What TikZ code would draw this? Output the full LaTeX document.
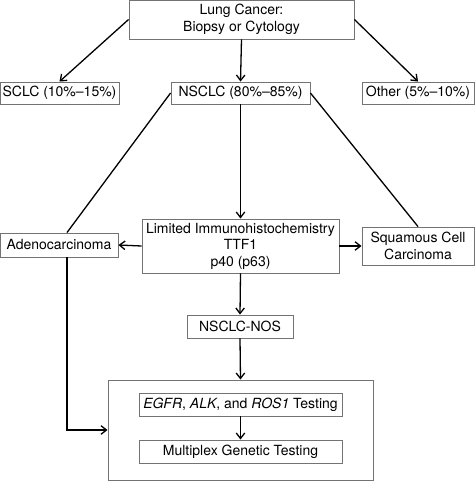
\documentclass[tikz,border=0pt]{standalone}
\usepackage{fontspec}
\setmainfont{TeX Gyre Heros}
\usetikzlibrary{arrows.meta}

\begin{document}
\begin{tikzpicture}[
  x=1pt, y=-1pt,
  every node/.style={font=\fontsize{14}{16.5}\selectfont},
  box/.style={draw=black!55, line width=0.9pt, inner sep=0pt, align=center},
  arrow/.style={-{Straight Barb[length=5.5pt,width=8.5pt]}, line width=1.3pt}
]
\useasboundingbox (0,0) rectangle (474,481);

% Top
\node[box, minimum width=225pt, minimum height=39pt] (cancer) at (241.5,19.5) {Lung Cancer:\\Biopsy or Cytology};

% Second row
\node[box, minimum width=119pt, minimum height=22pt] (sclc) at (59.5,93) {SCLC (10\%–15\%)};
\node[box, minimum width=139pt, minimum height=22pt] (nsclc) at (240.5,93) {NSCLC (80\%–85\%)};
\node[box, minimum width=112pt, minimum height=22pt] (other) at (418,93) {Other (5\%–10\%)};

% Middle row
\node[box, minimum width=118pt, minimum height=24pt] (adeno) at (59,245) {Adenocarcinoma};
\node[box, minimum width=197pt, minimum height=54pt] (ihc) at (240.5,246) {Limited Immunohistochemistry\\TTF1\\p40 (p63)};
\node[box, minimum width=112pt, minimum height=38pt] (squam) at (418,246) {Squamous Cell\\Carcinoma};
\node[box, minimum width=106pt, minimum height=23pt] (nos) at (240,326.5) {NSCLC-NOS};

% Testing
\node[box, minimum width=265pt, minimum height=100pt] (testing) at (240.5,430) {};
\node[box, minimum width=203pt, minimum height=23pt] (egfr) at (240.5,404.5) {\textit{EGFR}, \textit{ALK}, and \textit{ROS1} Testing};
\node[box, minimum width=203pt, minimum height=23pt] (multiplex) at (240.5,451.5) {Multiplex Genetic Testing};

% Arrows
\draw[arrow] (cancer.west) -- (sclc.north);
\draw[arrow] (cancer.south) -- (nsclc.north);
\draw[arrow] (cancer.east) -- (other.north);
\draw[line width=1.3pt] (nsclc.west) -- ([xshift=8pt]adeno.north);
\draw[line width=1.3pt] (nsclc.east) -- (squam.north);
\draw[arrow] (nsclc.south) -- (ihc.north);
\draw[arrow] (ihc.west) -- (adeno.east);
\draw[arrow] (ihc.east) -- (squam.west);
\draw[arrow] (ihc.south) -- (nos.north);
\draw[arrow] (nos.south) -- (testing.north);
\draw[arrow] ([xshift=8pt]adeno.south) |- (testing.west);
\draw[arrow] (egfr.south) -- (multiplex.north);

\end{tikzpicture}
\end{document}
